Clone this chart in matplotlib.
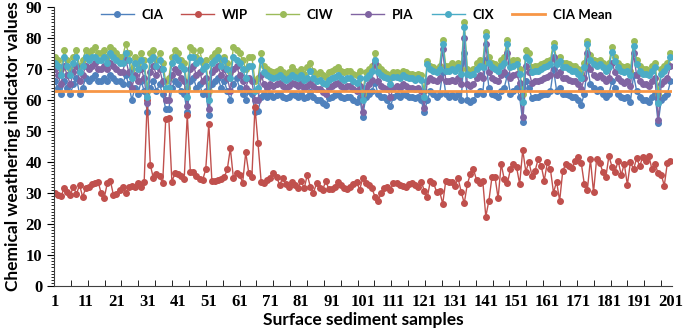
import matplotlib
matplotlib.use("Agg")
import matplotlib.pyplot as plt
import numpy as np

plt.rcParams['font.weight'] = 'bold'

# sample numbers 1..201
samples = np.arange(1, 202)

cia = [66, 64, 62, 66, 64, 62, 65, 67, 62, 64, 67, 66, 67, 68, 66, 66, 67, 66, 68, 67,
       66, 66, 65, 68, 65, 60, 64, 62, 66, 63,
       56, 64, 66, 63, 65, 62, 57, 57, 64, 66, 65, 63, 62, 56, 66, 67, 64, 65, 62, 63,
       55, 65, 66, 67, 64, 66, 63, 60, 65, 67, 64, 62, 60, 63, 62, 56, 56.5, 61, 62, 61,
       62, 61, 61.5, 62, 61, 60.5, 61, 62, 61.5, 61, 62, 60.5, 61, 62.5, 61, 60, 60, 59, 58.5, 60.5,
       61, 61.5, 62, 61, 60.5, 61, 61, 60, 59.5, 61,
       54.5, 61, 62, 63, 65.5, 62, 61, 61, 60, 58, 61, 61.5, 61, 62, 61.5, 61, 61, 60.5, 61, 60,
       56, 60, 63, 62, 61, 62, 69, 62,
       61, 61.5, 61, 62, 60, 75, 60, 59.5, 60, 62, 63, 62, 73, 64, 62, 61.5, 61, 63, 64, 68,
       62, 63, 64, 61, 53, 66, 64, 60.5, 61, 61, 61.5, 62, 62, 63, 70, 63, 64, 62, 62, 61.5,
       61, 61, 60, 58.5, 62, 71, 65, 64, 63, 63.5, 62, 61, 62, 66, 64, 62, 61, 60.5, 61, 59.5,
       68, 63, 61, 60, 60, 59.5, 61, 62, 52.5, 60, 61, 62, 66]

wip = [30.1, 29.4, 29.0, 31.5, 30.4, 29.4, 32.0, 29.7, 32.6, 28.8, 31.5, 32.0, 32.9, 33.3, 33.7,
       30.1, 28.3, 33.1, 34.0, 29.4, 29.7, 31.0, 32.0, 30.1, 31.8, 32.3, 32.0, 33.3, 31.8, 33.7,
       60.0, 39.0, 34.7, 36.1, 35.5, 33.1, 53.8, 54.2, 33.7, 36.3, 36.0, 35.5, 34.4, 55.3, 36.9,
       36.7, 35.5, 34.4, 34.2, 37.6, 52.3, 33.9, 33.9, 34.2, 34.4, 35.1, 37.6, 44.4, 34.7, 36.6,
       35.8, 33.3, 43.1, 36.3, 35.3, 57.8, 46.0, 33.7, 33.3, 34.2, 34.7, 36.6, 35.3, 32.6, 34.7,
       32.9, 32.0, 33.7, 32.6, 31.5, 33.9, 31.5, 35.8, 32.0, 30.1, 33.1, 31.5, 31.0, 33.9, 31.2,
       31.2, 32.0, 33.7, 32.6, 31.5, 31.2, 32.0, 32.9, 33.7, 31.0, 34.7, 33.1, 32.6, 31.5, 28.8,
       27.5, 29.9, 31.5, 32.0, 31.0, 33.3, 33.1, 32.6, 32.3, 32.0, 32.9, 33.1, 32.6, 32.0, 33.7,
       30.8, 28.6, 34.0, 33.3, 30.4, 30.6, 26.5, 34.0, 33.4, 33.7, 32.3, 34.7, 30.4, 26.7, 32.9,
       36.1, 37.6, 34.2, 33.1, 34.0, 22.4, 27.5, 35.1, 35.1, 28.3, 39.4, 34.4, 33.1, 37.6, 39.2,
       38.3, 32.9, 43.9, 36.9, 40.1, 35.6, 37.1, 40.9, 38.8, 34.0, 39.9, 37.6, 30.1, 33.7, 27.5,
       37.1, 39.4, 38.8, 38.0, 40.4, 41.7, 39.8, 32.9, 31.0, 40.9, 30.2, 40.9, 39.8, 36.9, 35.1,
       41.9, 38.5, 36.9, 40.4, 35.8, 39.4, 32.6, 40.1, 37.6, 41.2, 38.7, 41.5, 40.4, 41.9, 37.6,
       39.4, 36.3, 35.8, 32.4, 39.8, 40.4]

ciw = [74, 73, 70, 76, 73, 70, 74, 76, 71, 73, 76, 75, 76, 77, 75, 75, 76, 74, 77, 76,
       75, 74, 74, 78, 75, 70, 74, 72, 75, 73,
       63, 75, 76, 73, 75, 72, 66, 67, 74, 76, 75, 73, 72, 64, 77, 76, 74, 76, 72, 73,
       63, 74, 75, 76, 73, 74, 72, 69, 77, 76, 75, 73, 70, 74, 74, 66, 67, 75, 71, 70,
       69.5, 69, 69.5, 70, 69, 68.5, 69, 70.5, 69.5, 69, 70, 68.5, 70.5, 72, 69.5, 68.5, 69, 68, 67.5, 69,
       69.5, 70, 70.5, 69.5, 69, 69.5, 69.5, 68.5, 68, 69.5,
       62, 69, 70, 71, 75, 71, 70, 69, 68.5, 67, 69, 69, 68.5, 69.5, 69, 68.5, 68.5, 68, 68.5, 68,
       63, 72.5, 71, 70.5, 70, 71, 79.5, 71,
       71, 72, 71, 72, 70, 85, 70, 69.5, 70, 72, 73, 72, 82, 74, 72, 71.5, 71, 73, 74, 79.5,
       72, 73, 73, 70, 62, 76, 75, 70.5, 71, 71, 71.5, 72, 72.5, 73, 78.5, 73, 74, 72, 72, 71.5,
       71, 71, 70, 68.5, 72, 79, 74.5, 73, 72.5, 73, 72, 71, 72, 77, 74, 72, 71, 70.5, 71, 69.5,
       79, 73, 71, 70, 70, 69.5, 71, 72, 62, 70, 71, 72, 75]

pia = [70, 68, 65, 71, 68, 65, 69, 71, 66, 68, 71, 70, 71, 72, 70, 70, 71, 70, 72, 71,
       70, 69, 69, 73, 69, 64, 68, 66, 70, 67,
       59, 69, 71, 68, 70, 66, 60, 60, 68, 70, 69, 67, 66, 58, 70, 71, 68, 69, 66, 67,
       57, 69, 70, 71, 68, 70, 67, 63, 70, 71, 68, 66, 64, 67, 66, 60, 60, 68, 65, 64,
       65, 64.5, 65, 65.5, 64.5, 64, 64.5, 65.5, 65, 64.5, 65.5, 64, 64.5, 66, 64.5, 63.5, 63.5, 62.5, 62, 64,
       64.5, 65, 65.5, 64.5, 64, 64.5, 64.5, 63.5, 63, 64.5,
       56, 64, 65, 66.5, 72, 66, 64.5, 64, 63.5, 61, 64, 64.5, 64, 65, 64.5, 64, 64, 63.5, 64, 63,
       57.5, 66, 67, 66.5, 66, 67, 76.5, 66,
       66, 66.5, 66, 67, 65, 80, 65, 64.5, 65, 67, 68, 67, 78, 69, 67, 66.5, 66, 68, 69, 75,
       67, 68, 68.5, 65.5, 54.5, 71, 69, 65.5, 66, 66, 66.5, 67, 67.5, 68, 74, 68, 69, 67, 67, 66.5,
       66, 66, 65, 63.5, 67, 75, 70, 68, 67.5, 68, 67, 66, 67, 72, 69, 67, 66, 65.5, 66, 64.5,
       75, 68, 66, 65, 65, 64.5, 66, 67, 53.5, 65, 66, 67, 71]

cix = [72, 71, 68, 74, 71, 68, 72, 74, 69, 71, 74, 73, 74, 74, 73, 73, 74, 72, 75, 74,
       73, 72, 72, 75, 73, 67, 72, 70, 73, 71,
       61, 73, 74, 71, 73, 70, 64, 64, 72, 74, 73, 71, 70, 61, 74, 74, 72, 73, 70, 71,
       60, 72, 73, 74, 71, 73, 70, 67, 74, 73, 72, 70, 67, 71, 71, 63, 64, 73, 69, 68,
       67.5, 67, 67.5, 68, 67, 66.5, 67, 68, 67.5, 67, 68, 66.5, 67, 69.5, 67, 66, 66.5, 65.5, 65, 66.5,
       67, 67.5, 68, 67, 66.5, 67, 67, 66, 65.5, 67,
       60, 67, 68, 69.5, 73, 69, 68, 67.5, 67, 65, 67.5, 67.5, 67, 68, 67.5, 67, 67, 66.5, 67, 66.5,
       61, 71.5, 70, 69.5, 69, 70, 78, 69.5,
       69.5, 70, 69.5, 70.5, 68.5, 83.5, 68.5, 68, 68.5, 70, 71, 70.5, 80.5, 72, 70.5, 70, 69.5, 71, 72, 78,
       70.5, 71, 71.5, 68.5, 59.5, 74, 73, 69, 69.5, 69.5, 70, 70.5, 71, 71.5, 77, 71.5, 72.5, 70.5, 70.5, 70,
       69.5, 69.5, 68.5, 67, 70.5, 78, 73, 71.5, 71, 71.5, 70.5, 69.5, 70.5, 75.5, 72.5, 70.5, 69.5, 69, 69.5, 68,
       77.5, 71.5, 69.5, 68.5, 68.5, 68, 69.5, 70.5, 59, 68.5, 69.5, 70.5, 74]

cia_mean = 63.0

x_labels = list(range(1, 202, 10))

fig = plt.figure(figsize=(6.85, 3.35), dpi=100)
ax = fig.add_axes([54 / 685, 49 / 335, 618 / 685, 279 / 335])

ms = 4
ax.plot(samples, cia, '-o', color='#4F81BD', lw=1, ms=ms, label='CIA')
ax.plot(samples, wip, '-o', color='#C0504D', lw=1, ms=ms, label='WIP')
ax.plot(samples, ciw, '-o', color='#9BBB59', lw=1, ms=ms, label='CIW')
ax.plot(samples, pia, '-o', color='#8064A2', lw=1, ms=ms, label='PIA')
ax.plot(samples, cix, '-o', color='#4BACC6', lw=1, ms=ms, label='CIX')
ax.axhline(cia_mean, color='#F79646', lw=2, label='CIA Mean')

ax.set_xlim(0.7, 201.5)
ax.set_ylim(0, 90)
ax.set_yticks(range(0, 91, 10))
ax.set_yticks(range(0, 91, 1), minor=True)
ax.set_xticks(x_labels)
ax.set_xticks(np.arange(0.7, 202, 5.48), minor=True)
ax.tick_params(axis='x', which='major', length=0, pad=6)
ax.tick_params(axis='x', which='minor', length=4, direction='in')
ax.tick_params(axis='y', which='major', length=5, direction='out')
ax.tick_params(axis='y', which='minor', length=2.5, direction='out')
ax.tick_params(axis='both', which='major', labelfontfamily='Liberation Serif', labelsize=12)

for s in ['top', 'right']:
    ax.spines[s].set_visible(False)
for s in ['left', 'bottom']:
    ax.spines[s].set_color('#404040')

ax.set_xlabel('Surface sediment samples', fontsize=12.5, fontweight='bold',
              fontfamily='Lato', labelpad=1)
ax.set_ylabel('Chemical weathering indicator values', fontsize=12.5, fontweight='bold',
              fontfamily='Lato', labelpad=3)

ax.legend(loc='center', bbox_to_anchor=(0.489, 0.973), ncol=6, frameon=False,
          prop={'family': 'Lato', 'weight': 'bold', 'size': 9.5},
          handlelength=2.5, columnspacing=1.35, handletextpad=0.6,
          borderpad=0, borderaxespad=0)

fig.savefig('out.png', dpi=100)
